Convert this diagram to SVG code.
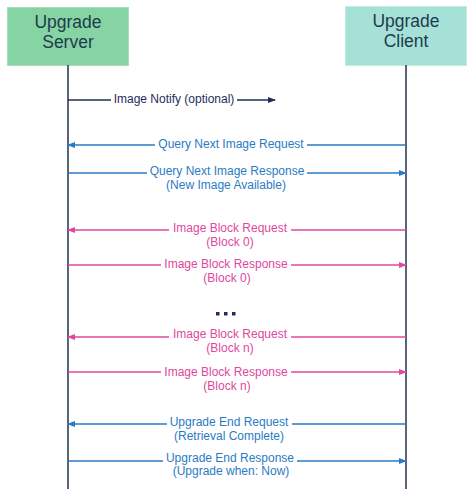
<svg xmlns="http://www.w3.org/2000/svg" width="474" height="496" viewBox="0 0 474 496">
<defs>
<style>
.hdr{font-family:"Liberation Sans",Arial,sans-serif;font-size:17.5px;fill:#1f3b4d;text-anchor:middle}
.lbl{font-family:"Liberation Sans",Arial,sans-serif;font-size:12px;text-anchor:middle}
.blue{fill:#2a7bc4}
.pink{fill:#e0479e}
.navy{fill:#1f2d5a}
.life{stroke:#2c3e5c;stroke-width:1.6}
.lb{stroke:#2a7bc4;stroke-width:1.3;fill:none}
.lp{stroke:#e0479e;stroke-width:1.3;fill:none}
.ln{stroke:#1f2d5a;stroke-width:1.5;fill:none}
</style>
<marker id="ab" markerWidth="8" markerHeight="6" refX="7" refY="3" orient="auto" markerUnits="userSpaceOnUse"><path d="M0,0 L8,3 L0,6 Z" fill="#2a7bc4"/></marker>
<marker id="ap" markerWidth="8" markerHeight="6" refX="7" refY="3" orient="auto" markerUnits="userSpaceOnUse"><path d="M0,0 L8,3 L0,6 Z" fill="#e0479e"/></marker>
<marker id="an" markerWidth="8" markerHeight="6" refX="7" refY="3" orient="auto" markerUnits="userSpaceOnUse"><path d="M0,0 L8,3 L0,6 Z" fill="#1f2d5a"/></marker>
</defs>
<rect width="474" height="496" fill="#ffffff"/>
<g id="server">
<rect x="7.5" y="7.5" width="121" height="58" fill="#86d3a3" stroke="#a6dcb8" stroke-width="1"/>
<text class="hdr" x="68" y="28">Upgrade</text>
<text class="hdr" x="68" y="48">Server</text>
<line class="life" x1="68" y1="65" x2="68" y2="489"/>
</g>
<g id="client">
<rect x="345.5" y="6.5" width="121" height="59" fill="#a6e1d8" stroke="#c2ebe4" stroke-width="1"/>
<text class="hdr" x="406" y="27">Upgrade</text>
<text class="hdr" x="406" y="47">Client</text>
<line class="life" x1="406" y1="65" x2="406" y2="489"/>
</g>
<g id="connectors">
<line class="ln" x1="68" y1="100" x2="111" y2="100"/>
<line class="ln" x1="237" y1="100" x2="275" y2="100" marker-end="url(#an)"/>
<text class="lbl navy" x="174" y="103">Image Notify (optional)</text>

<line class="lb" x1="406" y1="145" x2="307" y2="145"/>
<line class="lb" x1="155" y1="145" x2="68" y2="145" marker-end="url(#ab)"/>
<text class="lbl blue" x="231" y="148">Query Next Image Request</text>

<line class="lb" x1="68" y1="173" x2="147" y2="173"/>
<line class="lb" x1="307" y1="173" x2="406" y2="173" marker-end="url(#ab)"/>
<text class="lbl blue" x="227" y="175">Query Next Image Response</text>
<text class="lbl blue" x="226" y="189">(New Image Available)</text>

<line class="lp" x1="406" y1="230" x2="291" y2="230"/>
<line class="lp" x1="169" y1="230" x2="68" y2="230" marker-end="url(#ap)"/>
<text class="lbl pink" x="230" y="232">Image Block Request</text>
<text class="lbl pink" x="230" y="246">(Block 0)</text>

<line class="lp" x1="68" y1="265" x2="161" y2="265"/>
<line class="lp" x1="291" y1="265" x2="406" y2="265" marker-end="url(#ap)"/>
<text class="lbl pink" x="226" y="268">Image Block Response</text>
<text class="lbl pink" x="227" y="282">(Block 0)</text>

<g fill="#1f2d5a"><rect x="216" y="312" width="3.5" height="3.5"/><rect x="224" y="312" width="3.5" height="3.5"/><rect x="232" y="312" width="3.5" height="3.5"/></g>

<line class="lp" x1="406" y1="337" x2="291" y2="337"/>
<line class="lp" x1="169" y1="337" x2="68" y2="337" marker-end="url(#ap)"/>
<text class="lbl pink" x="230" y="338">Image Block Request</text>
<text class="lbl pink" x="230" y="352">(Block n)</text>

<line class="lp" x1="68" y1="372" x2="161" y2="372"/>
<line class="lp" x1="291" y1="372" x2="406" y2="372" marker-end="url(#ap)"/>
<text class="lbl pink" x="226" y="376">Image Block Response</text>
<text class="lbl pink" x="227" y="390">(Block n)</text>

<line class="lb" x1="406" y1="424" x2="292" y2="424"/>
<line class="lb" x1="167" y1="424" x2="68" y2="424" marker-end="url(#ab)"/>
<text class="lbl blue" x="229" y="426">Upgrade End Request</text>
<text class="lbl blue" x="229" y="440">(Retrieval Complete)</text>

<line class="lb" x1="68" y1="461" x2="163" y2="461"/>
<line class="lb" x1="297" y1="461" x2="406" y2="461" marker-end="url(#ab)"/>
<text class="lbl blue" x="230" y="462">Upgrade End Response</text>
<text class="lbl blue" x="231" y="475">(Upgrade when: Now)</text>
</g>
</svg>
